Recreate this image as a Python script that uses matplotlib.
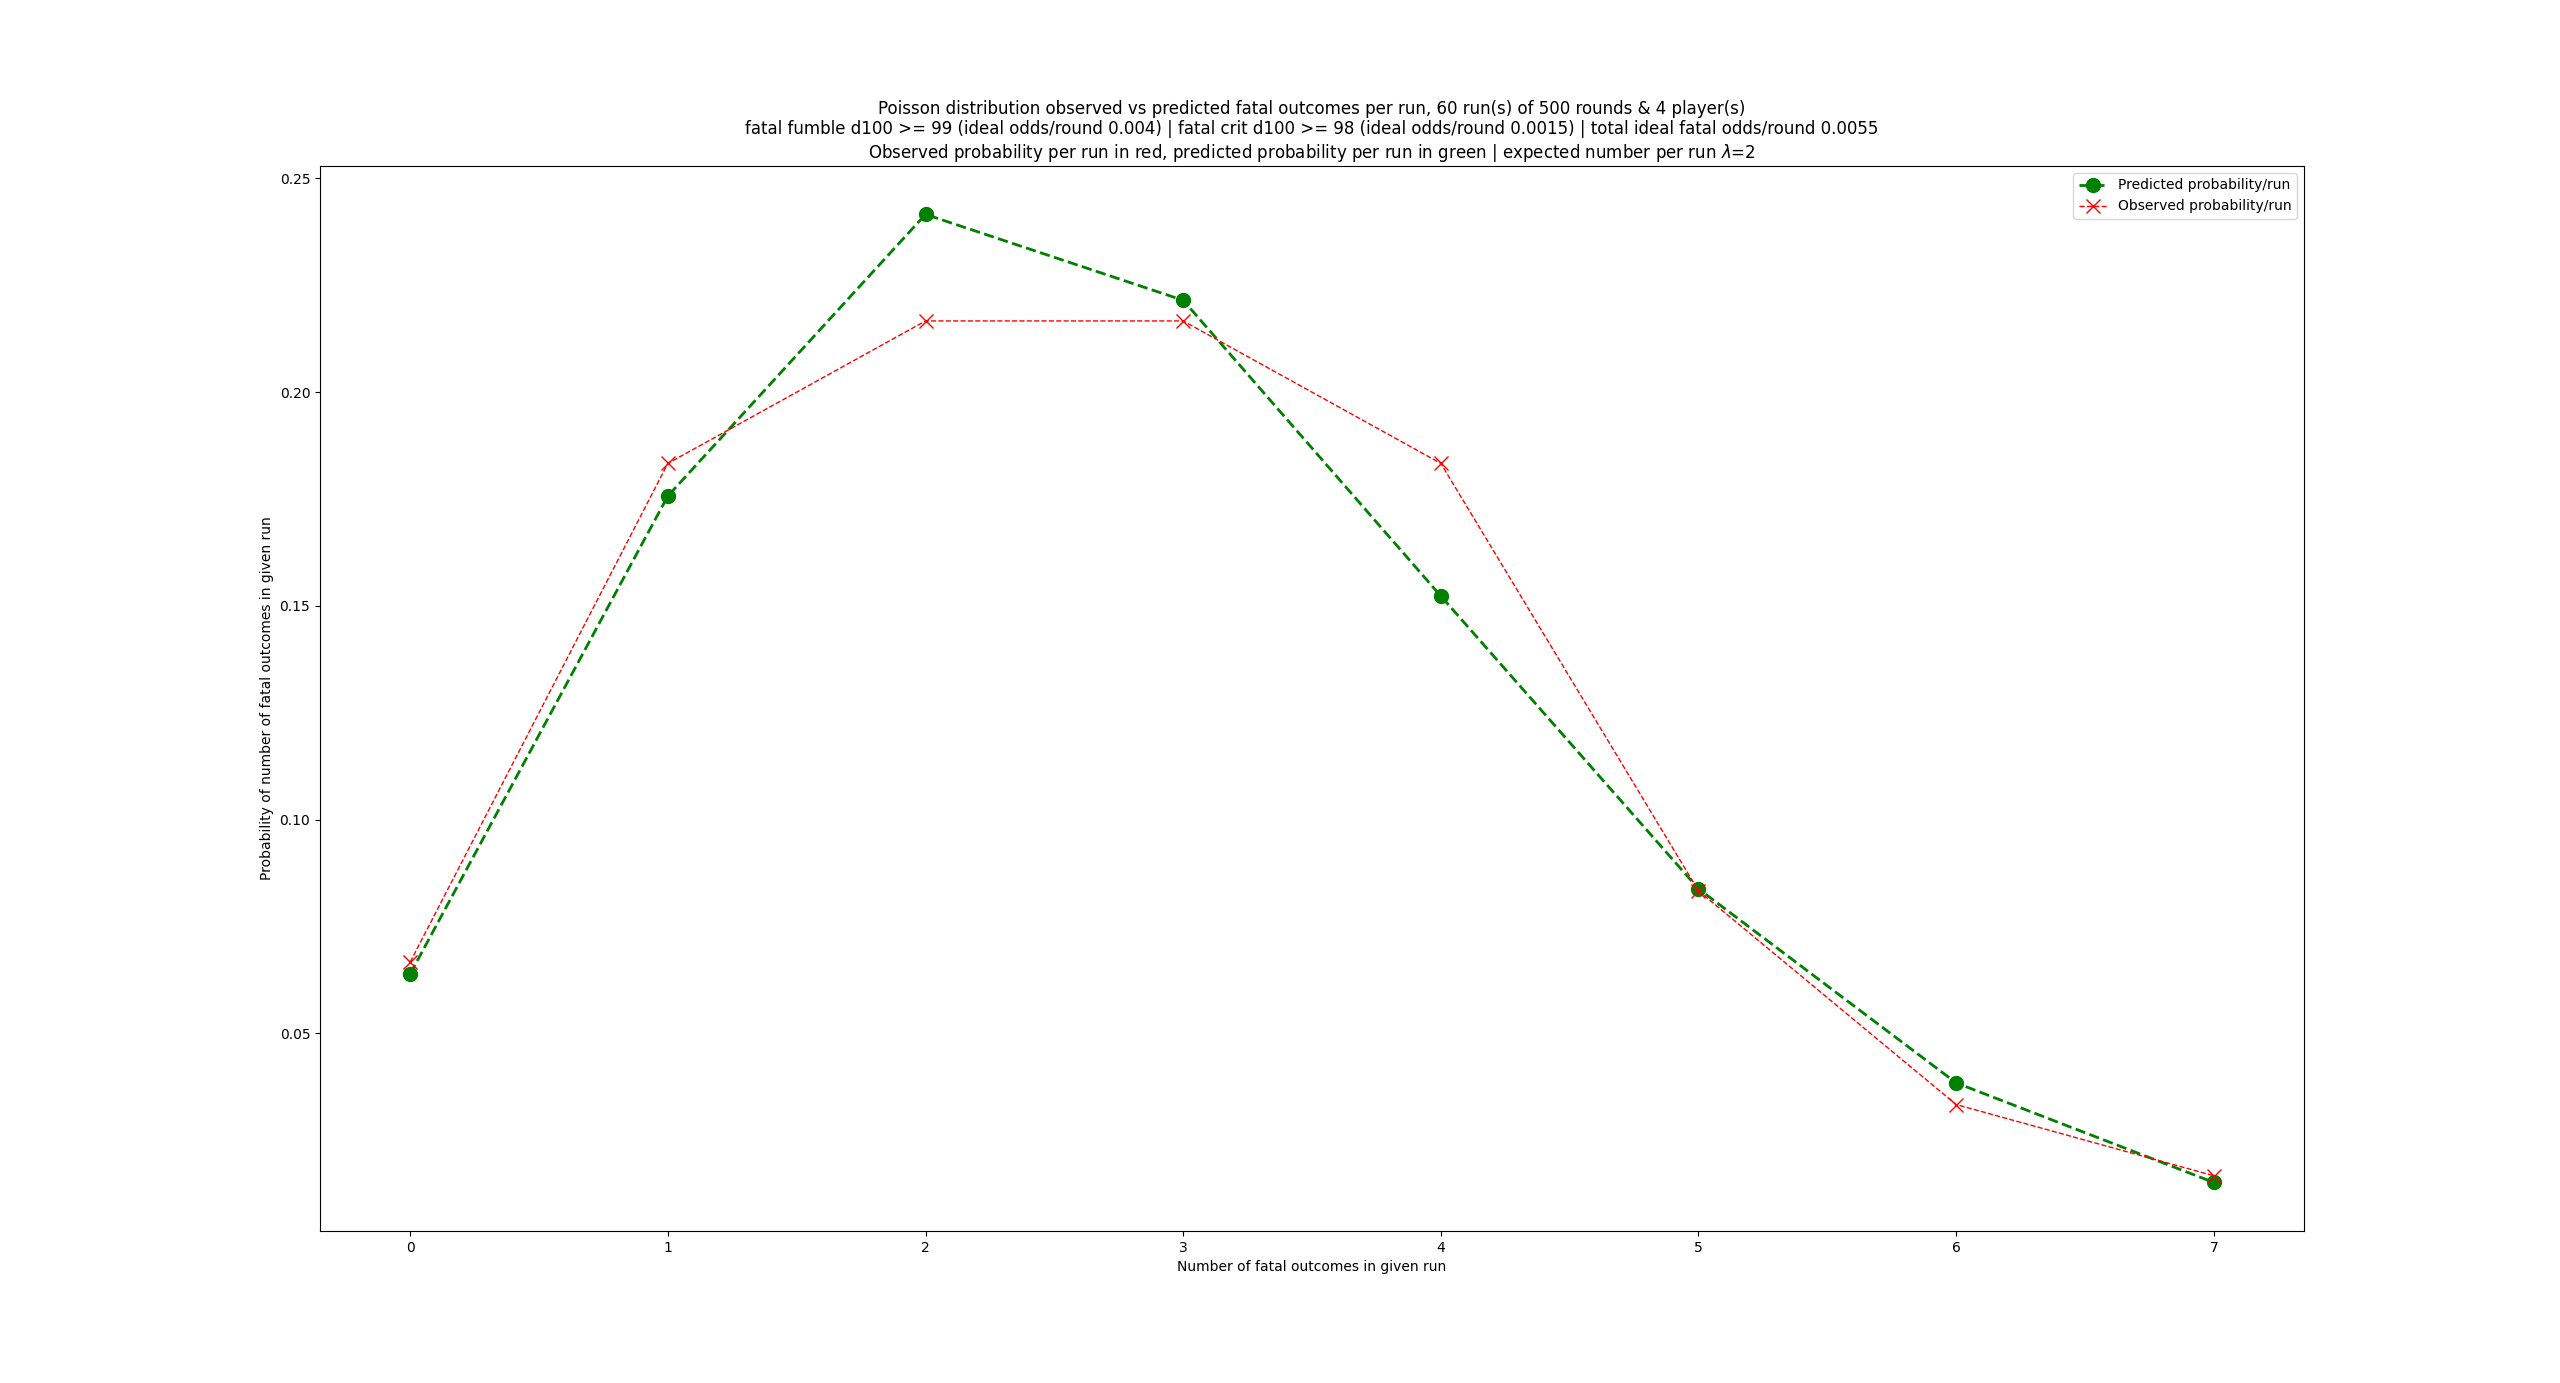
import matplotlib
matplotlib.use("Agg")
import matplotlib.pyplot as plt

outcomes = [0, 1, 2, 3, 4, 5, 6, 7]
predicted = [0.0639, 0.1757, 0.2416, 0.2215, 0.1523, 0.0838, 0.0384, 0.0151]
observed = [4 / 60, 11 / 60, 13 / 60, 13 / 60, 11 / 60, 5 / 60, 2 / 60, 1 / 60]

fig, ax = plt.subplots(figsize=(25.6, 13.83), dpi=100)
ax.plot(outcomes, predicted, 'go--', linewidth=2, markersize=10, label='Predicted probability/run')
ax.plot(outcomes, observed, 'rx--', linewidth=1, markersize=10, label='Observed probability/run')
ax.set_title("Poisson distribution observed vs predicted fatal outcomes per run, 60 run(s) of 500 rounds & 4 player(s)\n"
             "fatal fumble d100 >= 99 (ideal odds/round 0.004) | fatal crit d100 >= 98 (ideal odds/round 0.0015) | total ideal fatal odds/round 0.0055\n"
             "Observed probability per run in red, predicted probability per run in green | expected number per run $\\lambda$=2",
             fontsize=12)
ax.set_xlabel('Number of fatal outcomes in given run')
ax.set_ylabel('Probability of number of fatal outcomes in given run')
ax.legend(loc='upper right')
fig.savefig("out.png")
